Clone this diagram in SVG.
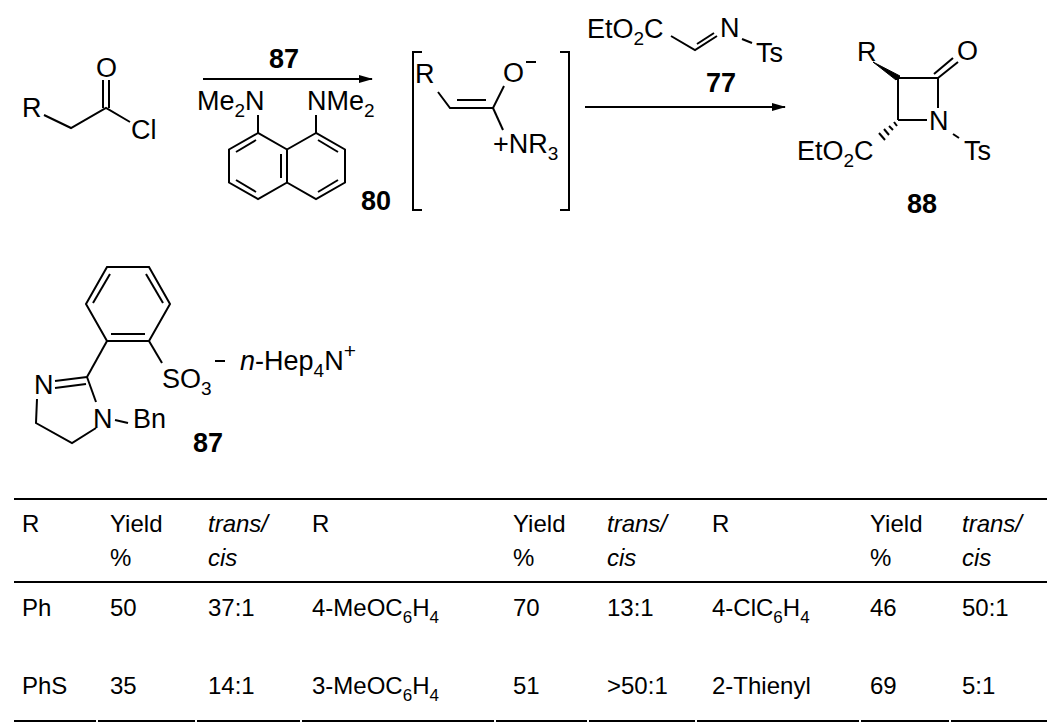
<svg xmlns="http://www.w3.org/2000/svg" width="1047" height="726" viewBox="0 0 1047 726">
<defs>
<style>
text{font-family:"Liberation Sans",Arial,sans-serif;fill:#000}
.c{font-size:27px}
.b{font-size:27px;font-weight:bold}
.t{font-size:24px}
.i{font-style:italic}
line,polyline,path{stroke:#000;stroke-width:2;fill:none}
</style>
<marker id="ah" markerWidth="14" markerHeight="10" refX="13" refY="5" orient="auto" markerUnits="userSpaceOnUse"><path d="M0,1 L14,5 L0,9 Z" style="fill:#000;stroke:none"/></marker>
</defs>
<rect width="1047" height="726" fill="#fff"/>
<g id="acylchloride">
<text class="c" x="22" y="117">R</text>
<polyline points="44,115 71,128 106,108 130,122"/>
<line x1="103" y1="108" x2="103" y2="80"/><line x1="109" y1="108" x2="109" y2="80"/>
<text class="c" x="96" y="77">O</text>
<text class="c" x="131" y="139">Cl</text>
</g>
<g id="base80">
<text class="c" x="197" y="110">Me<tspan font-size="19" dy="7">2</tspan><tspan dy="-7">N</tspan></text>
<text class="c" x="307" y="110">NMe<tspan font-size="19" dy="7">2</tspan></text>
<line x1="258" y1="115" x2="258" y2="133"/><line x1="316" y1="115" x2="316" y2="133"/>
<polygon points="258,133 229,149.5 229,182.5 258,199 287,182.5 287,149.5" style="fill:none;stroke:#000;stroke-width:2"/>
<polygon points="316,133 287,149.5 287,182.5 316,199 345,182.5 345,149.5" style="fill:none;stroke:#000;stroke-width:2"/>
<line x1="256" y1="140" x2="236" y2="152"/><line x1="236" y1="180" x2="256" y2="192"/><line x1="281" y1="154" x2="281" y2="178"/>
<line x1="318" y1="140" x2="338" y2="152"/><line x1="338" y1="180" x2="318" y2="192"/>
<text class="b" x="361" y="210">80</text>
</g>
<g id="intermediate">
<path d="M422,52 H413 V210 H422"/><path d="M560,52 H569 V210 H560"/>
<text class="c" x="415" y="83">R</text>
<polyline points="438,92 450,108 493,108"/>
<line x1="457" y1="100" x2="486" y2="100"/>
<line x1="493" y1="108" x2="504" y2="86"/>
<line x1="493" y1="108" x2="503" y2="130"/>
<text class="c" x="503" y="82">O</text>
<line x1="526" y1="62" x2="536" y2="62"/>
<text class="c" x="493" y="153">+NR<tspan font-size="19" dy="7">3</tspan></text>
</g>
<g id="imine77">
<text class="c" x="587" y="38">EtO<tspan font-size="19" dy="7">2</tspan><tspan dy="-7">C</tspan></text>
<polyline points="671,36 695,50 717,36"/>
<line x1="697" y1="44" x2="714" y2="33"/>
<text class="c" x="720" y="37">N</text>
<line x1="742" y1="39" x2="752" y2="43"/>
<text class="c" x="756" y="62">Ts</text>
<text class="b" x="706" y="92">77</text>
</g>
<g id="product88">
<text class="c" x="857" y="61">R</text>
<path d="M873,62 L900,76 L896,80 Z" style="fill:#000;stroke:#000;stroke-width:1"/>
<polyline points="898,120 898,78 938,78 938,108"/>
<line x1="938" y1="78" x2="958" y2="62"/><line x1="934" y1="74" x2="953" y2="58"/>
<text class="c" x="957" y="60">O</text>
<line x1="898" y1="120" x2="927" y2="120"/>
<text class="c" x="929" y="130">N</text>
<line x1="953" y1="134" x2="959" y2="138"/>
<text class="c" x="964" y="160">Ts</text>
<g style="stroke-width:1.5"><line x1="894" y1="122" x2="897" y2="126"/><line x1="889" y1="126" x2="893" y2="130"/><line x1="884" y1="129" x2="889" y2="135"/><line x1="879" y1="133" x2="885" y2="140"/></g>
<text class="c" x="797" y="160">EtO<tspan font-size="19" dy="7">2</tspan><tspan dy="-7">C</tspan></text>
<text class="b" x="907" y="213">88</text>
</g>
<g id="catalyst87">
<polygon points="107,267 149,267 170,304 149,341 107,341 86,304" style="fill:none;stroke:#000;stroke-width:2"/>
<line x1="93" y1="303" x2="110" y2="274"/><line x1="146" y1="274" x2="163" y2="303"/><line x1="111" y1="334" x2="145" y2="334"/>
<line x1="107" y1="341" x2="87" y2="377"/>
<line x1="149" y1="341" x2="162" y2="363"/>
<text class="c" x="162" y="388">SO<tspan font-size="19" dy="7">3</tspan></text>
<line x1="215" y1="361" x2="225" y2="361"/>
<text class="c" x="240" y="370"><tspan class="i">n</tspan>-Hep<tspan font-size="19" dy="7">4</tspan><tspan dy="-7">N</tspan><tspan font-size="21" dy="-12">+</tspan></text>
<text class="c" x="34" y="394">N</text>
<line x1="55" y1="381" x2="87" y2="377"/><line x1="55" y1="388" x2="86" y2="384"/>
<line x1="87" y1="377" x2="96" y2="402"/>
<text class="c" x="93" y="428">N</text>
<polyline points="96,428 72,443 36,423 37,399"/>
<line x1="115" y1="420" x2="128" y2="423"/>
<text class="c" x="133" y="428">Bn</text>
<text class="b" x="193" y="452">87</text>
</g>
<g id="connectors">
<line x1="203" y1="79" x2="372" y2="79" marker-end="url(#ah)"/>
<text class="b" x="284" y="68" text-anchor="middle">87</text>
<line x1="585" y1="107" x2="785" y2="107" marker-end="url(#ah)"/>
</g>
<g id="table">
<line x1="14" y1="499" x2="1047" y2="499"/>
<line x1="14" y1="582" x2="1047" y2="582"/>
<line x1="14" y1="721" x2="96" y2="721"/><line x1="98" y1="721" x2="195" y2="721"/><line x1="197" y1="721" x2="300" y2="721"/><line x1="302" y1="721" x2="494" y2="721"/><line x1="496" y1="721" x2="587" y2="721"/><line x1="589" y1="721" x2="695" y2="721"/><line x1="697" y1="721" x2="859" y2="721"/><line x1="861" y1="721" x2="949" y2="721"/><line x1="951" y1="721" x2="1047" y2="721"/>
<text class="t" x="22" y="532">R</text>
<text class="t" x="110" y="532">Yield</text><text class="t" x="110" y="566">%</text>
<text class="t i" x="208" y="532">trans/</text><text class="t i" x="208" y="566">cis</text>
<text class="t" x="312" y="532">R</text>
<text class="t" x="513" y="532">Yield</text><text class="t" x="513" y="566">%</text>
<text class="t i" x="607" y="532">trans/</text><text class="t i" x="607" y="566">cis</text>
<text class="t" x="712" y="532">R</text>
<text class="t" x="870" y="532">Yield</text><text class="t" x="870" y="566">%</text>
<text class="t i" x="962" y="532">trans/</text><text class="t i" x="962" y="566">cis</text>
<text class="t" x="22" y="616">Ph</text><text class="t" x="110" y="616">50</text><text class="t" x="208" y="616">37:1</text>
<text class="t" x="312" y="616">4-MeOC<tspan font-size="17" dy="7">6</tspan><tspan dy="-7">H</tspan><tspan font-size="17" dy="7">4</tspan></text>
<text class="t" x="513" y="616">70</text><text class="t" x="607" y="616">13:1</text>
<text class="t" x="712" y="616">4-ClC<tspan font-size="17" dy="7">6</tspan><tspan dy="-7">H</tspan><tspan font-size="17" dy="7">4</tspan></text>
<text class="t" x="870" y="616">46</text><text class="t" x="962" y="616">50:1</text>
<text class="t" x="22" y="694">PhS</text><text class="t" x="110" y="694">35</text><text class="t" x="208" y="694">14:1</text>
<text class="t" x="312" y="694">3-MeOC<tspan font-size="17" dy="7">6</tspan><tspan dy="-7">H</tspan><tspan font-size="17" dy="7">4</tspan></text>
<text class="t" x="513" y="694">51</text><text class="t" x="607" y="694">&gt;50:1</text>
<text class="t" x="712" y="694">2-Thienyl</text>
<text class="t" x="870" y="694">69</text><text class="t" x="962" y="694">5:1</text>
</g>
</svg>
